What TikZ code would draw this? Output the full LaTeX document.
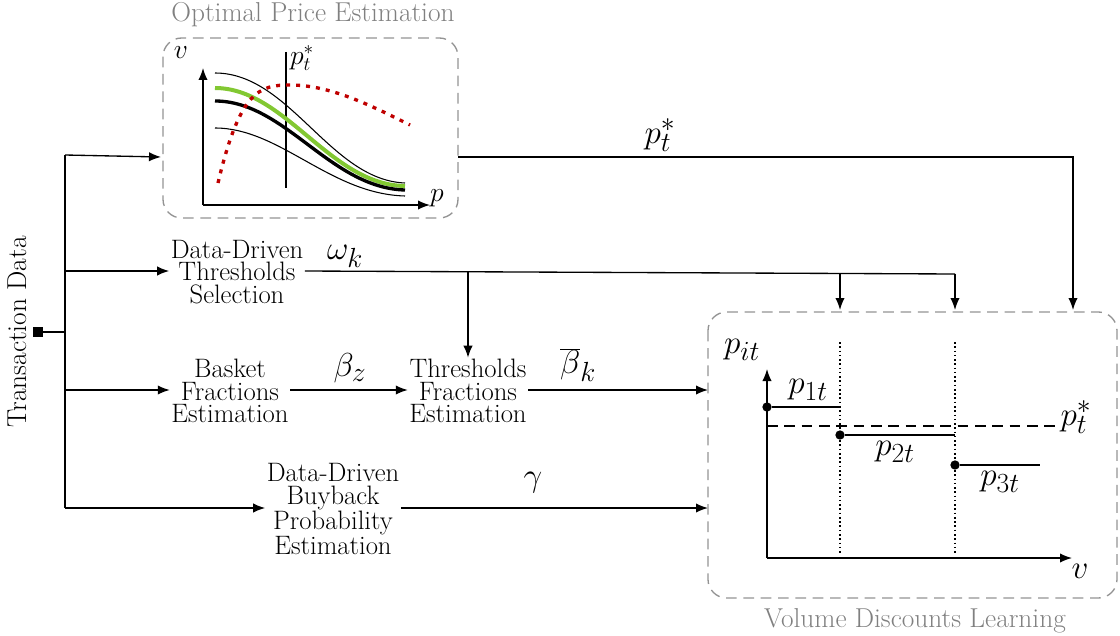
\documentclass[tikz,border=0pt]{standalone}
\usetikzlibrary{arrows.meta}
\definecolor{lgreen}{RGB}{130,200,50}
\begin{document}
\begin{tikzpicture}[x=0.75pt,y=-0.75pt,
  arr/.style={-{Latex[length=9pt,width=7pt]},line width=1pt},
  ln/.style={line width=1pt},
  frame/.style={draw=gray!85,dash pattern=on 8pt off 5pt,rounded corners=14pt,line width=1pt},
  ttl/.style={text=gray,font=\fontsize{20.5}{22}\selectfont},
  lbl/.style={align=center,font=\fontsize{20}{16.8}\selectfont,inner sep=1pt},
  sml/.style={font=\fontsize{21}{23}\selectfont,inner sep=0pt},
  mth/.style={font=\fontsize{29}{31}\selectfont,inner sep=0pt}]
\useasboundingbox (0,0) rectangle (1120,635);
% left trunk
\node[rotate=90,font=\fontsize{20.5}{22}\selectfont] (td) at (17,332) {Transaction Data};
\node[fill=black,minimum size=7pt,inner sep=0pt] (sq) at (38,332) {};
\coordinate (j) at (65,332);
\coordinate (b1) at (65,155);
\coordinate (b4) at (65,508);
\draw[ln] (sq) -- (j);
\draw[ln] (b1) -- (b4);
% top frame
\draw[frame] (163,38) rectangle (458,218);
\node[ttl] (t1) at (313,15) {Optimal Price Estimation};
\coordinate (f1w) at (161,157);
\draw[arr] (b1) -- (f1w);
% plot top
\coordinate (o1) at (203,205);
\coordinate (y1) at (203,68);
\coordinate (x1) at (430,205);
\draw[arr] (o1) -- (y1);
\draw[arr] (o1) -- (x1);
\node[sml] (pl) at (437,198) {$p$};
\node[sml] (vl) at (181,53) {$v$};
\coordinate (va) at (286,52); \coordinate (vb) at (286,188);
\draw[ln] (va) -- (vb);
\node[sml] (ps1) at (302,58) {$p_t^*$};
\draw[line width=0.8pt] (215,73) .. controls (290,73) and (330,180) .. (405,183);
\draw[line width=3pt,lgreen] (215,88) .. controls (285,88) and (330,185) .. (405,186);
\draw[line width=2.5pt] (215,101) .. controls (285,101) and (330,188) .. (405,190);
\draw[line width=0.8pt] (215,128) .. controls (280,128) and (330,194) .. (405,196);
\draw[line width=2.5pt,red!75!black,dash pattern=on 3pt off 4.5pt] (218,183) .. controls (240,90) and (260,85) .. (290,85) .. controls (330,85) and (370,105) .. (410,125);
% p* route
\coordinate (f1e) at (458,157);
\coordinate (c1) at (1073,157);
\coordinate (f2n) at (1073,310);
\draw[arr] (f1e) -- (c1) -- (f2n);
\node[mth] (pslab) at (660,135) {$p_t^*$};
% DDTS
\node[lbl] (ddts) at (237,272) {Data-Driven\\Thresholds\\Selection};
\draw[arr] (65,271) -- (ddts.west |- 0,271);
\coordinate (wA) at (468,272);
\coordinate (wB) at (840,273);
\coordinate (wC) at (955,274);
\draw[ln] (ddts.east |- 0,271) -- (wC);
\node[mth] (wk) at (345,256) {$\omega_k$};
% Basket
\node[lbl] (bfe) at (230,391) {Basket\\Fractions\\Estimation};
\draw[arr] (65,390) -- (bfe.west |- 0,390);
\node[lbl] (tfe) at (468,391) {Thresholds\\Fractions\\Estimation};
\draw[arr] (wA) -- (tfe.north);
\draw[arr] (bfe.east |- 0,390) -- (tfe.west |- 0,390);
\node[mth] (bz) at (350,368) {$\beta_z$};
\coordinate (f2w) at (708,390);
\draw[arr] (tfe.east |- 0,390) -- (f2w);
\node[mth] (bk) at (578,365) {$\overline{\beta}_k$};
% Buyback
\node[lbl] (bbp) at (333,509) {Data-Driven\\Buyback\\Probability\\Estimation};
\draw[arr] (b4) -- (bbp.west |- 0,508);
\coordinate (f2w2) at (708,508);
\draw[arr] (bbp.east |- 0,508) -- (f2w2);
\node[mth] (gm) at (533,483) {$\gamma$};
% arrows down
\draw[arr] (wB) -- (840,310);
\draw[arr] (wC) -- (955,310);
% bottom frame
\draw[frame] (708,312) rectangle (1117,598);
\node[ttl] (t2) at (915,621) {Volume Discounts Learning};
\coordinate (o2) at (767,558);
\draw[arr] (o2) -- (767,369);
\draw[arr] (o2) -- (1072,558);
\node[mth] (pit) at (742,350) {$p_{it}$};
\node[mth] (vv) at (1080,571) {$v$};
\draw[line width=1.2pt,dotted] (840,342) -- (840,553);
\draw[line width=1.2pt,dotted] (955,342) -- (955,553);
\draw[line width=1pt,dash pattern=on 8pt off 5pt] (767,426) -- (1055,426);
\node[mth] (ps2) at (1076,417) {$p_t^*$};
\node[circle,fill=black,inner sep=0pt,minimum size=7pt] (d1) at (767,407) {};
\node[circle,fill=black,inner sep=0pt,minimum size=7pt] (d2) at (840,435) {};
\node[circle,fill=black,inner sep=0pt,minimum size=7pt] (d3) at (955,465) {};
\draw[ln] (d1) -- (840,407);
\draw[ln] (d2) -- (955,435);
\draw[ln] (d3) -- (1040,465);
\node[mth] (p1) at (808,390) {$p_{1t}$};
\node[mth] (p2) at (895,452) {$p_{2t}$};
\node[mth] (p3) at (1000,482) {$p_{3t}$};
\end{tikzpicture}
\end{document}
